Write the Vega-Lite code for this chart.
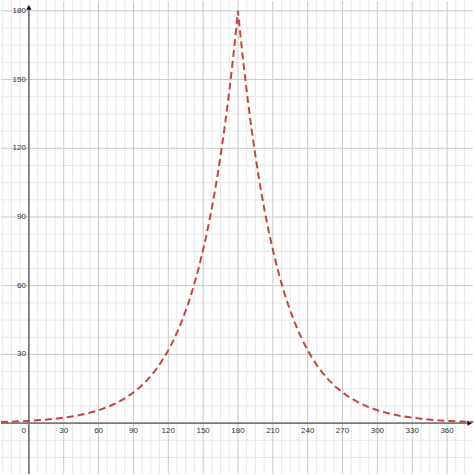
{
  "$schema": "https://vega.github.io/schema/vega-lite/v6.json",
  "width": 474,
  "height": 475,
  "padding": 0,
  "autosize": {"type": "fit", "contains": "padding"},
  "background": "white",
  "config": {"view": {"stroke": null}},
  "datasets": {
    "minorx": [
      {"v": -22.5}, {"v": -15}, {"v": -7.5},
      {"v": 7.5}, {"v": 15}, {"v": 22.5},
      {"v": 37.5}, {"v": 45}, {"v": 52.5},
      {"v": 67.5}, {"v": 75}, {"v": 82.5},
      {"v": 97.5}, {"v": 105}, {"v": 112.5},
      {"v": 127.5}, {"v": 135}, {"v": 142.5},
      {"v": 157.5}, {"v": 165}, {"v": 172.5},
      {"v": 187.5}, {"v": 195}, {"v": 202.5},
      {"v": 217.5}, {"v": 225}, {"v": 232.5},
      {"v": 247.5}, {"v": 255}, {"v": 262.5},
      {"v": 277.5}, {"v": 285}, {"v": 292.5},
      {"v": 307.5}, {"v": 315}, {"v": 322.5},
      {"v": 337.5}, {"v": 345}, {"v": 352.5},
      {"v": 367.5}, {"v": 375}
    ],
    "minory": [
      {"v": -15}, {"v": -7.5},
      {"v": 7.5}, {"v": 15}, {"v": 22.5},
      {"v": 37.5}, {"v": 45}, {"v": 52.5},
      {"v": 67.5}, {"v": 75}, {"v": 82.5},
      {"v": 97.5}, {"v": 105}, {"v": 112.5},
      {"v": 127.5}, {"v": 135}, {"v": 142.5},
      {"v": 157.5}, {"v": 165}, {"v": 172.5}
    ],
    "majorx": [
      {"v": 30, "o": 0}, {"v": 60, "o": 0}, {"v": 90, "o": 0}, {"v": 120, "o": 0},
      {"v": 150, "o": 0}, {"v": 180, "o": 0}, {"v": 210, "o": 0}, {"v": 240, "o": 0},
      {"v": 270, "o": 0}, {"v": 300, "o": 0}, {"v": 330, "o": 0}, {"v": 360, "o": 0}
    ],
    "majory": [
      {"v": 30, "o": 0}, {"v": 60, "o": 0}, {"v": 90, "o": 0},
      {"v": 120, "o": 0}, {"v": 150, "o": 0}, {"v": 180, "o": 0}
    ],
    "curve": [
      {"x": -24, "y": 0.5}, {"x": -12, "y": 0.7}, {"x": 0, "y": 0.99},
      {"x": 10, "y": 1.33}, {"x": 20, "y": 1.77}, {"x": 30, "y": 2.37},
      {"x": 40, "y": 3.16}, {"x": 50, "y": 4.22}, {"x": 60, "y": 5.63},
      {"x": 68, "y": 7.09}, {"x": 76, "y": 8.93}, {"x": 84, "y": 11.25},
      {"x": 90, "y": 13.4}, {"x": 96, "y": 15.9}, {"x": 102, "y": 18.9},
      {"x": 108, "y": 22.5}, {"x": 112, "y": 25.25}, {"x": 116, "y": 28.35},
      {"x": 120, "y": 31.8}, {"x": 124, "y": 35.7}, {"x": 128, "y": 40.1},
      {"x": 132, "y": 45}, {"x": 135, "y": 49.1}, {"x": 138, "y": 53.5},
      {"x": 141, "y": 58.4}, {"x": 144, "y": 63.6}, {"x": 147, "y": 69.4},
      {"x": 150, "y": 75.7}, {"x": 153, "y": 82.5}, {"x": 156, "y": 90},
      {"x": 158, "y": 95.35}, {"x": 160, "y": 101}, {"x": 162, "y": 107},
      {"x": 164, "y": 113.4}, {"x": 166, "y": 120.1}, {"x": 168, "y": 127.3},
      {"x": 170, "y": 134.9}, {"x": 172, "y": 142.9}, {"x": 174, "y": 151.4},
      {"x": 176, "y": 160.4}, {"x": 178, "y": 169.9}, {"x": 180, "y": 180},
      {"x": 182, "y": 169.9}, {"x": 184, "y": 160.4}, {"x": 186, "y": 151.4},
      {"x": 188, "y": 142.9}, {"x": 190, "y": 134.9}, {"x": 192, "y": 127.3},
      {"x": 194, "y": 120.1}, {"x": 196, "y": 113.4}, {"x": 198, "y": 107},
      {"x": 200, "y": 101}, {"x": 202, "y": 95.35}, {"x": 204, "y": 90},
      {"x": 207, "y": 82.5}, {"x": 210, "y": 75.7}, {"x": 213, "y": 69.4},
      {"x": 216, "y": 63.6}, {"x": 219, "y": 58.4}, {"x": 222, "y": 53.5},
      {"x": 225, "y": 49.1}, {"x": 228, "y": 45}, {"x": 232, "y": 40.1},
      {"x": 236, "y": 35.7}, {"x": 240, "y": 31.8}, {"x": 244, "y": 28.35},
      {"x": 248, "y": 25.25}, {"x": 252, "y": 22.5}, {"x": 258, "y": 18.9},
      {"x": 264, "y": 15.9}, {"x": 270, "y": 13.4}, {"x": 276, "y": 11.25},
      {"x": 284, "y": 8.93}, {"x": 292, "y": 7.09}, {"x": 300, "y": 5.63},
      {"x": 310, "y": 4.22}, {"x": 320, "y": 3.16}, {"x": 330, "y": 2.37},
      {"x": 340, "y": 1.77}, {"x": 350, "y": 1.33}, {"x": 360, "y": 0.99},
      {"x": 372, "y": 0.7}, {"x": 384, "y": 0.5}
    ],
    "axes": [
      {"x": 0, "x2": 0, "y": -22.2, "y2": 181.5},
      {"x": -24, "x2": 378, "y": 0, "y2": 0}
    ]
  },
  "layer": [
    {
      "data": {"name": "minorx"},
      "mark": {"type": "rule", "color": "#e8e8e8", "strokeWidth": 1},
      "encoding": {
        "x": {"field": "v", "type": "quantitative", "scale": {"domain": [-24, 382.3], "nice": false, "zero": false}, "axis": null}
      }
    },
    {
      "data": {"name": "minory"},
      "mark": {"type": "rule", "color": "#e8e8e8", "strokeWidth": 1},
      "encoding": {
        "y": {"field": "v", "type": "quantitative", "scale": {"domain": [-22.2, 184.3], "nice": false, "zero": false}, "axis": null}
      }
    },
    {
      "data": {"name": "majorx"},
      "mark": {"type": "rule", "color": "#c8c8c8", "strokeWidth": 1},
      "encoding": {
        "x": {"field": "v", "type": "quantitative", "axis": null}
      }
    },
    {
      "data": {"name": "majory"},
      "mark": {"type": "rule", "color": "#c8c8c8", "strokeWidth": 1},
      "encoding": {
        "y": {"field": "v", "type": "quantitative", "axis": null}
      }
    },
    {
      "data": {"name": "axes"},
      "mark": {"type": "rule", "color": "#7a7a7a", "strokeWidth": 1.8, "clip": true},
      "encoding": {
        "x": {"field": "x", "type": "quantitative", "axis": null},
        "x2": {"field": "x2"},
        "y": {"field": "y", "type": "quantitative", "axis": null},
        "y2": {"field": "y2"}
      }
    },
    {
      "data": {"values": [{"x": 0, "y": 181.5}]},
      "mark": {"type": "point", "shape": "triangle-up", "filled": true, "color": "#111111", "size": 28, "opacity": 1},
      "encoding": {
        "x": {"field": "x", "type": "quantitative", "axis": null},
        "y": {"field": "y", "type": "quantitative", "axis": null}
      }
    },
    {
      "data": {"values": [{"x": 379.5, "y": 0}]},
      "mark": {"type": "point", "shape": "triangle-right", "filled": true, "color": "#111111", "size": 28, "opacity": 1},
      "encoding": {
        "x": {"field": "x", "type": "quantitative", "axis": null},
        "y": {"field": "y", "type": "quantitative", "axis": null}
      }
    },
    {
      "data": {"name": "majorx"},
      "mark": {"type": "text", "font": "Liberation Sans", "fontSize": 8, "color": "#333333", "baseline": "top", "dy": 4},
      "encoding": {
        "x": {"field": "v", "type": "quantitative", "axis": null},
        "y": {"field": "o", "type": "quantitative", "axis": null},
        "text": {"field": "v", "type": "quantitative", "format": "d"}
      }
    },
    {
      "data": {"values": [{"v": 0, "o": 0}]},
      "mark": {"type": "text", "font": "Liberation Sans", "fontSize": 8, "color": "#333333", "baseline": "top", "align": "right", "dy": 4, "dx": -3},
      "encoding": {
        "x": {"field": "v", "type": "quantitative", "axis": null},
        "y": {"field": "o", "type": "quantitative", "axis": null},
        "text": {"field": "v", "type": "quantitative", "format": "d"}
      }
    },
    {
      "data": {"name": "majory"},
      "mark": {"type": "text", "font": "Liberation Sans", "fontSize": 8, "color": "#333333", "baseline": "middle", "align": "right", "dx": -3},
      "encoding": {
        "x": {"field": "o", "type": "quantitative", "axis": null},
        "y": {"field": "v", "type": "quantitative", "axis": null},
        "text": {"field": "v", "type": "quantitative", "format": "d"}
      }
    },
    {
      "data": {"name": "curve"},
      "mark": {"type": "line", "color": "#c74440", "strokeWidth": 2, "strokeDash": [7, 4], "clip": true},
      "encoding": {
        "x": {"field": "x", "type": "quantitative", "axis": null},
        "y": {"field": "y", "type": "quantitative", "axis": null}
      }
    }
  ]
}
